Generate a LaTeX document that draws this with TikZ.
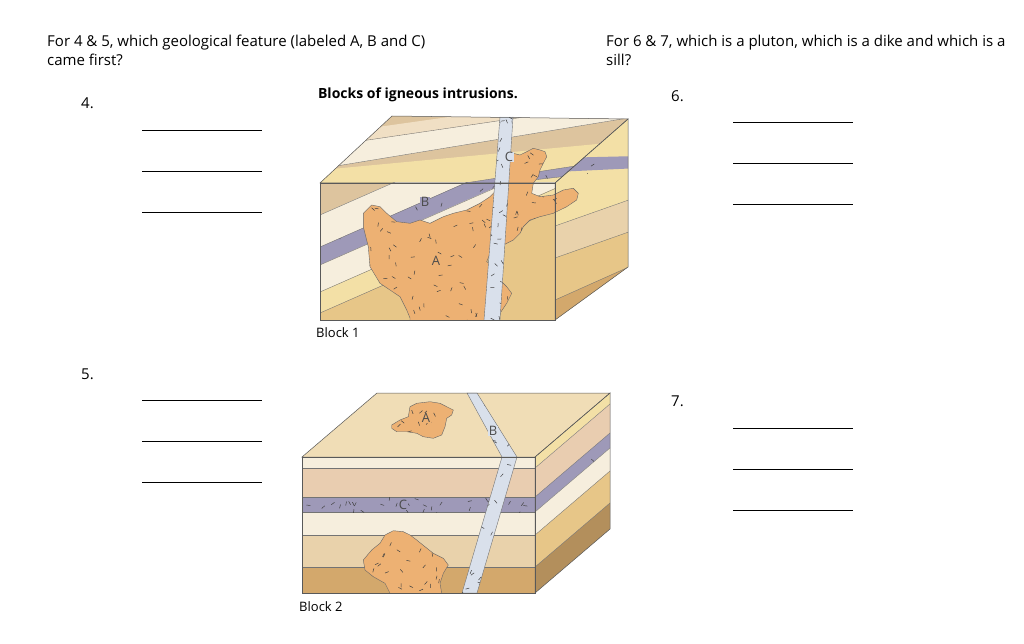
\documentclass[tikz,border=0pt]{standalone}
\usepackage{fontspec}
\setmainfont{Open Sans}
\begin{document}
\begin{tikzpicture}[x=1pt,y=-1pt,
  edge/.style={draw=black!65,line width=0.5pt},
  lay/.style={draw=black!55,line width=0.35pt},
  blank/.style={draw=black,line width=0.4pt},
  lbl/.style={font=\fontsize{13}{14}\selectfont,text=black!70,inner sep=0pt},
  txt/.style={font=\fontsize{15}{18}\selectfont,anchor=west,inner sep=0pt}]
\definecolor{plut}{HTML}{EDB173}
\definecolor{dike}{HTML}{D9E0EB}
\definecolor{sill}{HTML}{9E99B8}
\definecolor{creamA}{HTML}{F6EEDD}
\definecolor{tanA}{HTML}{E9D2AB}
\definecolor{tanB}{HTML}{DDC49E}
\definecolor{yelA}{HTML}{F3E0A6}
\definecolor{yelB}{HTML}{E7C688}
\definecolor{brnA}{HTML}{D3A86C}
\definecolor{pinkA}{HTML}{E9CDB0}
\definecolor{topA}{HTML}{F0DDB6}
\newcommand\speckle[5]{%
  \foreach \i in {1,...,#5}{%
    \pgfmathsetmacro\px{#1+rnd*#3}%
    \pgfmathsetmacro\py{#2+rnd*#4}%
    \pgfmathsetmacro\pa{rnd*180}%
    \draw[black!75,line width=0.5pt] (\px,\py) -- ++(\pa:4);}}
\pgfmathsetseed{7}
\useasboundingbox (0,0) rectangle (1024,644);
\fill[white] (0,0) rectangle (1024,644);
% ---------- texts ----------
\node[txt] (q1) at (47,43) {For 4 \& 5, which geological feature (labeled A, B and C)};
\node[txt] (q1b) at (47,60) {came first?};
\node[txt] (q2) at (606,43) {For 6 \& 7, which is a pluton, which is a dike and which is a};
\node[txt] (q2b) at (606,60) {sill?};
\node[txt] (n4) at (81,103) {4.};
\node[txt] (n5) at (81,374) {5.};
\node[txt] (n6) at (671,96) {6.};
\node[txt] (n7) at (671,401) {7.};
\foreach \y in {130,171,212,400,441,482}{\draw[blank] (142,\y) -- (262,\y);}
\foreach \y in {122,163,204,428,469,510}{\draw[blank] (733,\y) -- (853,\y);}
\node[font=\fontsize{14}{16}\selectfont\bfseries,inner sep=0pt] (title) at (418,95) {Blocks of igneous intrusions.};
\node[txt,font=\fontsize{13}{15}\selectfont] (b1) at (316,333) {Block 1};
\node[txt,font=\fontsize{13}{15}\selectfont] (b2) at (299,607) {Block 2};
% ---------- BLOCK 1 ----------
\def\frontA{(320,183) -- (555,183) -- (555,320) -- (320,320) -- cycle}
\def\rightA{(555,183) -- (628,119) -- (628,267) -- (555,320) -- cycle}
\def\topA{(320,183) -- (392,116) -- (628,119) -- (555,183) -- cycle}
\def\blockA{(320,183) -- (392,116) -- (628,119) -- (628,267) -- (555,320) -- (320,320) -- cycle}
% top face
\fill[tanB] \topA;
\begin{scope}
\clip \topA;
\fill[creamA] (300,172) -- (640,116) -- (640,100) -- (300,150) -- cycle;
\fill[tanA!70] (300,150) -- (640,100) -- (640,90) -- (300,138) -- cycle;
\fill[yelA] (300,183) -- (640,183) -- (640,140) -- (300,172) -- cycle;
\fill[sill] (465,183) -- (506,183) -- (640,168) -- (640,156) -- cycle;
\draw[lay] (300,150) -- (640,100);
\draw[lay] (300,172) -- (640,116);
\draw[lay] (465,183) -- (640,156);
\draw[lay] (506,183) -- (640,168);
\end{scope}
% right face
\fill[yelA] \rightA;
\begin{scope}
\clip \rightA;
\fill[sill] (555,158) -- (640,156) -- (640,168) -- (555,172) -- cycle;
\fill[tanA] (555,226) -- (640,196) -- (640,228) -- (555,258) -- cycle;
\fill[yelB] (555,258) -- (640,228) -- (640,300) -- (555,330) -- cycle;
\fill[brnA] (555,300) -- (640,262) -- (640,300) -- (555,330) -- cycle;
\draw[lay] (555,226) -- (640,196);
\draw[lay] (555,258) -- (640,228);
\draw[lay] (555,300) -- (640,262);
\end{scope}
% front face
\fill[tanB] \frontA;
\begin{scope}
\clip \frontA;
\fill[creamA] (320,215) -- (560,109) -- (560,141) -- (320,247) -- cycle;
\fill[sill] (320,247) -- (560,141) -- (560,159) -- (320,265) -- cycle;
\fill[creamA] (320,265) -- (560,159) -- (560,186) -- (320,292) -- cycle;
\fill[yelA] (320,292) -- (560,186) -- (560,207) -- (320,313) -- cycle;
\fill[yelB] (320,313) -- (560,207) -- (560,330) -- (320,330) -- cycle;
\foreach \yy in {215,247,265,292,313}{\draw[lay] (320,\yy) -- (560,\yy-105.6);}
\clip (320,247) -- (560,141) -- (560,159) -- (320,265) -- cycle;
\speckle{320}{140}{240}{130}{70}
\end{scope}
\begin{scope}
\clip \blockA;
\clip (465,183) -- (506,183) -- (640,168) -- (640,156) -- cycle;
\speckle{460}{150}{180}{35}{14}
\end{scope}
% pluton A
\def\plA{(410,318) -- (406.7,310) -- (400,296.7) -- (380,283.3) -- (370,266.7) -- (368.3,246.7) -- (363.3,226.7) -- (363.3,213.3) -- (371.7,205) -- (380,206.7) -- (386.7,213.3) -- (396.7,221.7) -- (410,223.3) -- (420,220) -- (430,223.3) -- (443.3,216.7) -- (453.3,213.3) -- (466.7,210) -- (480,203.3) -- (490,196.7) -- (496.7,190) -- (503.3,180) -- (501.7,166.7) -- (506.7,160) -- (513.3,153.3) -- (520,155) -- (526.7,151.7) -- (533.3,148.3) -- (540,150) -- (545,151.7) -- (546.7,156.7) -- (543.3,163.3) -- (540,170) -- (538.3,176.7) -- (533.3,183.3) -- (531.7,193.3) -- (540,196.7) -- (553.3,195) -- (563.3,190) -- (573.3,188.3) -- (578.3,193.3) -- (576.7,200) -- (566.7,206.7) -- (553.3,213.3) -- (540,216.7) -- (530,220) -- (523.3,226.7) -- (520,233.3) -- (513.3,240) -- (500,246.7) -- (490,253.3) -- (486.7,261.7) -- (491.7,265) -- (496.7,270) -- (500,280) -- (506.7,286.7) -- (511.7,293.3) -- (506.7,303.3) -- (500,313.3) -- (496.7,320) -- (410,320) -- cycle}
\fill[plut] \plA;
\draw[black!60,line width=0.4pt] (410,320) -- (410,318) -- (406.7,310) -- (400,296.7) -- (380,283.3) -- (370,266.7) -- (368.3,246.7) -- (363.3,226.7) -- (363.3,213.3) -- (371.7,205) -- (380,206.7) -- (386.7,213.3) -- (396.7,221.7) -- (410,223.3) -- (420,220) -- (430,223.3) -- (443.3,216.7) -- (453.3,213.3) -- (466.7,210) -- (480,203.3) -- (490,196.7) -- (496.7,190) -- (503.3,180) -- (501.7,166.7) -- (506.7,160) -- (513.3,153.3) -- (520,155) -- (526.7,151.7) -- (533.3,148.3) -- (540,150) -- (545,151.7) -- (546.7,156.7) -- (543.3,163.3) -- (540,170) -- (538.3,176.7) -- (533.3,183.3) -- (531.7,193.3) -- (540,196.7) -- (553.3,195) -- (563.3,190) -- (573.3,188.3) -- (578.3,193.3) -- (576.7,200) -- (566.7,206.7) -- (553.3,213.3) -- (540,216.7) -- (530,220) -- (523.3,226.7) -- (520,233.3) -- (513.3,240) -- (500,246.7) -- (490,253.3) -- (486.7,261.7) -- (491.7,265) -- (496.7,270) -- (500,280) -- (506.7,286.7) -- (511.7,293.3) -- (506.7,303.3) -- (500,313.3) -- (496.7,320);
\begin{scope}
\clip \plA;
\speckle{360}{145}{220}{175}{150}
\end{scope}
% dike C
\def\dkA{(500,117) -- (513,117) -- (500,320) -- (484,320) -- cycle}
\fill[dike] \dkA;
\draw[black!55,line width=0.4pt] (500,117) -- (484,320) (513,117) -- (500,320);
\begin{scope}
\clip \dkA;
\speckle{482}{115}{32}{205}{45}
\end{scope}
% edges block 1
\draw[edge] \topA;
\draw[edge] \frontA;
\draw[edge] \rightA;
\node[lbl,fill=dike,inner sep=0.5pt] (lC1) at (509,157) {C};
\node[lbl,fill=sill,inner sep=0.3pt] (lB1) at (425,202) {B};
\node[lbl,fill=plut,inner sep=0.5pt] (lA1) at (436,261) {A};
% ---------- BLOCK 2 ----------
\def\frontB{(302,457) -- (535,457) -- (535,593) -- (302,593) -- cycle}
\def\rightB{(535,457) -- (610,393) -- (610,529) -- (535,593) -- cycle}
\def\topB{(302,457) -- (377,393) -- (610,393) -- (535,457) -- cycle}
\fill[topA] \topB;
% front bands
\fill[creamA] (302,457) rectangle (535,468);
\fill[pinkA] (302,468) rectangle (535,497);
\fill[sill] (302,497) rectangle (535,512);
\fill[creamA] (302,512) rectangle (535,535);
\fill[tanA] (302,535) rectangle (535,567);
\fill[brnA] (302,567) rectangle (535,593);
\foreach \yy in {468,497,512,535,567}{\draw[lay] (302,\yy) -- (535,\yy);}
\begin{scope}
\clip (302,497) rectangle (535,512);
\speckle{302}{495}{233}{19}{35}
\end{scope}
% right bands
\fill[yelA] (535,457) -- (610,393) -- (610,404) -- (535,468) -- cycle;
\fill[pinkA] (535,468) -- (610,404) -- (610,433) -- (535,497) -- cycle;
\fill[sill] (535,497) -- (610,433) -- (610,448) -- (535,512) -- cycle;
\fill[creamA] (535,512) -- (610,448) -- (610,471) -- (535,535) -- cycle;
\fill[yelB] (535,535) -- (610,471) -- (610,503) -- (535,567) -- cycle;
\fill[brnA!85!black] (535,567) -- (610,503) -- (610,529) -- (535,593) -- cycle;
\foreach \yy in {468,497,512,535,567}{\draw[lay] (535,\yy) -- (610,\yy-64);}
\begin{scope}
\clip (535,497) -- (610,433) -- (610,448) -- (535,512) -- cycle;
\speckle{535}{430}{75}{85}{14}
\end{scope}
% plutons
\def\plBa{(391.7,425) -- (400,420) -- (408.3,416.7) -- (410,406.7) -- (416.7,403.3) -- (430,401.7) -- (440,403.3) -- (446.7,406.7) -- (453.3,410) -- (451.7,415) -- (446.7,418.3) -- (445,426.7) -- (441.7,435) -- (433.3,438.3) -- (423.3,436.7) -- (416.7,433.3) -- (406.7,431.7) -- (396.7,431.7) -- (391.7,428.3) -- cycle}
\def\plBb{(390,593.3) -- (385,583.3) -- (373.3,576.7) -- (365,570) -- (363.3,560) -- (371.7,550) -- (380,543.3) -- (385,535) -- (393.3,530.7) -- (403.3,531.7) -- (410,535) -- (416.7,540) -- (425,546.7) -- (433.3,553.3) -- (443.3,558.3) -- (448.3,565) -- (443.3,573.3) -- (440,583.3) -- (441.7,593.3) -- cycle}
\fill[plut,draw=black!60,line width=0.4pt] \plBa;
\fill[plut,draw=black!60,line width=0.4pt] \plBb;
\begin{scope}
\clip \plBa;
\speckle{390}{400}{65}{40}{16}
\end{scope}
\begin{scope}
\clip \plBb;
\speckle{362}{529}{88}{65}{35}
\end{scope}
% dike B
\def\dkB{(467,393) -- (477,393) -- (517,457) -- (477,593) -- (462,593) -- (502,457) -- cycle}
\fill[dike,draw=black!55,line width=0.4pt] \dkB;
\begin{scope}
\clip \dkB;
\speckle{460}{390}{60}{205}{45}
\end{scope}
\draw[edge] \topB;
\draw[edge] \frontB;
\draw[edge] \rightB;
\node[lbl,fill=plut,inner sep=0.5pt] (lA2) at (426,418) {A};
\node[lbl,fill=dike,inner sep=0.5pt] (lB2) at (493,431) {B};
\node[lbl,fill=sill,inner sep=0.5pt] (lC2) at (403,505) {C};
\end{tikzpicture}
\end{document}
